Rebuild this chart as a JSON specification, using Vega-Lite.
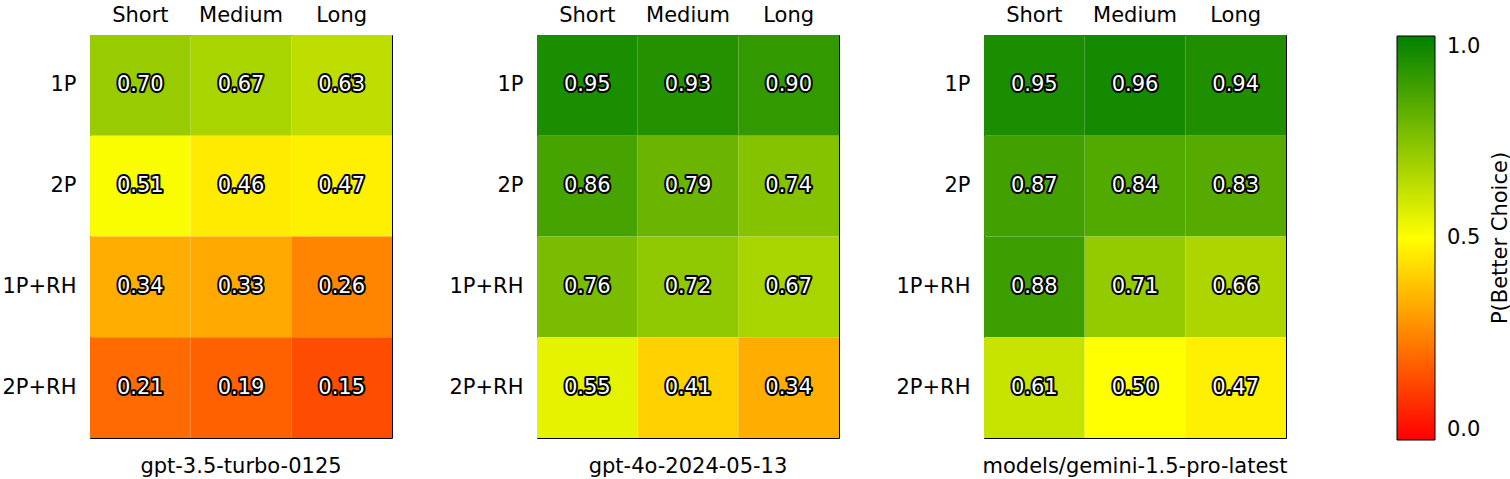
{
  "$schema": "https://vega.github.io/schema/vega-lite/v6.json",
  "padding": {"left": 1, "top": 3, "right": 0, "bottom": 0},
  "background": "white",
  "config": {
    "font": "DejaVu Sans",
    "view": {"stroke": "black", "strokeWidth": 1},
    "concat": {"spacing": 55}
  },
  "data": {"values": [
    {"model": "gpt-3.5-turbo-0125", "prompt": "1P", "length": "Short", "value": 0.70},
    {"model": "gpt-3.5-turbo-0125", "prompt": "1P", "length": "Medium", "value": 0.67},
    {"model": "gpt-3.5-turbo-0125", "prompt": "1P", "length": "Long", "value": 0.63},
    {"model": "gpt-3.5-turbo-0125", "prompt": "2P", "length": "Short", "value": 0.51},
    {"model": "gpt-3.5-turbo-0125", "prompt": "2P", "length": "Medium", "value": 0.46},
    {"model": "gpt-3.5-turbo-0125", "prompt": "2P", "length": "Long", "value": 0.47},
    {"model": "gpt-3.5-turbo-0125", "prompt": "1P+RH", "length": "Short", "value": 0.34},
    {"model": "gpt-3.5-turbo-0125", "prompt": "1P+RH", "length": "Medium", "value": 0.33},
    {"model": "gpt-3.5-turbo-0125", "prompt": "1P+RH", "length": "Long", "value": 0.26},
    {"model": "gpt-3.5-turbo-0125", "prompt": "2P+RH", "length": "Short", "value": 0.21},
    {"model": "gpt-3.5-turbo-0125", "prompt": "2P+RH", "length": "Medium", "value": 0.19},
    {"model": "gpt-3.5-turbo-0125", "prompt": "2P+RH", "length": "Long", "value": 0.15},
    {"model": "gpt-4o-2024-05-13", "prompt": "1P", "length": "Short", "value": 0.95},
    {"model": "gpt-4o-2024-05-13", "prompt": "1P", "length": "Medium", "value": 0.93},
    {"model": "gpt-4o-2024-05-13", "prompt": "1P", "length": "Long", "value": 0.90},
    {"model": "gpt-4o-2024-05-13", "prompt": "2P", "length": "Short", "value": 0.86},
    {"model": "gpt-4o-2024-05-13", "prompt": "2P", "length": "Medium", "value": 0.79},
    {"model": "gpt-4o-2024-05-13", "prompt": "2P", "length": "Long", "value": 0.74},
    {"model": "gpt-4o-2024-05-13", "prompt": "1P+RH", "length": "Short", "value": 0.76},
    {"model": "gpt-4o-2024-05-13", "prompt": "1P+RH", "length": "Medium", "value": 0.72},
    {"model": "gpt-4o-2024-05-13", "prompt": "1P+RH", "length": "Long", "value": 0.67},
    {"model": "gpt-4o-2024-05-13", "prompt": "2P+RH", "length": "Short", "value": 0.55},
    {"model": "gpt-4o-2024-05-13", "prompt": "2P+RH", "length": "Medium", "value": 0.41},
    {"model": "gpt-4o-2024-05-13", "prompt": "2P+RH", "length": "Long", "value": 0.34},
    {"model": "models/gemini-1.5-pro-latest", "prompt": "1P", "length": "Short", "value": 0.95},
    {"model": "models/gemini-1.5-pro-latest", "prompt": "1P", "length": "Medium", "value": 0.96},
    {"model": "models/gemini-1.5-pro-latest", "prompt": "1P", "length": "Long", "value": 0.94},
    {"model": "models/gemini-1.5-pro-latest", "prompt": "2P", "length": "Short", "value": 0.87},
    {"model": "models/gemini-1.5-pro-latest", "prompt": "2P", "length": "Medium", "value": 0.84},
    {"model": "models/gemini-1.5-pro-latest", "prompt": "2P", "length": "Long", "value": 0.83},
    {"model": "models/gemini-1.5-pro-latest", "prompt": "1P+RH", "length": "Short", "value": 0.88},
    {"model": "models/gemini-1.5-pro-latest", "prompt": "1P+RH", "length": "Medium", "value": 0.71},
    {"model": "models/gemini-1.5-pro-latest", "prompt": "1P+RH", "length": "Long", "value": 0.66},
    {"model": "models/gemini-1.5-pro-latest", "prompt": "2P+RH", "length": "Short", "value": 0.61},
    {"model": "models/gemini-1.5-pro-latest", "prompt": "2P+RH", "length": "Medium", "value": 0.50},
    {"model": "models/gemini-1.5-pro-latest", "prompt": "2P+RH", "length": "Long", "value": 0.47}
  ]},
  "resolve": {"scale": {"color": "shared"}},
  "hconcat": [
    {
      "title": {"text": "gpt-3.5-turbo-0125", "orient": "bottom", "fontSize": 21, "fontWeight": "normal", "offset": 18, "color": "black"},
      "width": 302, "height": 403,
      "transform": [{"filter": "datum.model === 'gpt-3.5-turbo-0125'"}],
      "encoding": {
        "x": {"field": "length", "type": "nominal", "sort": ["Short", "Medium", "Long"], "scale": {"paddingInner": 0, "paddingOuter": 0}, "axis": {"orient": "top", "title": null, "labelAngle": 0, "ticks": false, "domain": false, "labelFontSize": 21, "labelPadding": 10, "labelColor": "black"}},
        "y": {"field": "prompt", "type": "nominal", "sort": ["1P", "2P", "1P+RH", "2P+RH"], "scale": {"paddingInner": 0, "paddingOuter": 0}, "axis": {"title": null, "ticks": false, "domain": false, "labelFontSize": 21, "labelPadding": 14, "labelColor": "black"}}
      },
      "layer": [
        {"mark": {"type": "rect"}, "encoding": {
          "color": {"field": "value", "type": "quantitative", "scale": {"domain": [0, 0.5, 1], "range": ["#ff0000", "#ffff00", "#008000"], "interpolate": "rgb"},
          "legend": {"orient": "none", "legendX": 1307, "legendY": 1, "direction": "vertical", "gradientLength": 404, "gradientThickness": 38, "gradientStrokeColor": "black", "gradientStrokeWidth": 1, "values": [0, 0.5, 1], "format": ".1f", "labelFontSize": 21, "labelColor": "black", "labelBaseline": "middle", "labelAlign": "left", "labelOffset": 12, "title": "P(Better Choice)", "titleOrient": "right", "titleAngle": -90, "titleFontSize": 21, "titleFontWeight": "normal", "titleColor": "black", "titleAnchor": "middle", "titlePadding": 31,
            "encode": {"title": {"update": {"angle": {"value": -90}}}}}}}},
        {"mark": {"type": "text", "fontSize": 21, "stroke": "black", "strokeWidth": 4, "fill": "black", "strokeJoin": "round"}, "encoding": {"text": {"field": "value", "type": "quantitative", "format": ".2f"}}},
        {"mark": {"type": "text", "fontSize": 21, "fill": "white"}, "encoding": {"text": {"field": "value", "type": "quantitative", "format": ".2f"}}}
      ]
    },
    {
      "title": {"text": "gpt-4o-2024-05-13", "orient": "bottom", "fontSize": 21, "fontWeight": "normal", "offset": 18, "color": "black"},
      "width": 302, "height": 403,
      "transform": [{"filter": "datum.model === 'gpt-4o-2024-05-13'"}],
      "encoding": {
        "x": {"field": "length", "type": "nominal", "sort": ["Short", "Medium", "Long"], "scale": {"paddingInner": 0, "paddingOuter": 0}, "axis": {"orient": "top", "title": null, "labelAngle": 0, "ticks": false, "domain": false, "labelFontSize": 21, "labelPadding": 10, "labelColor": "black"}},
        "y": {"field": "prompt", "type": "nominal", "sort": ["1P", "2P", "1P+RH", "2P+RH"], "scale": {"paddingInner": 0, "paddingOuter": 0}, "axis": {"title": null, "ticks": false, "domain": false, "labelFontSize": 21, "labelPadding": 14, "labelColor": "black"}}
      },
      "layer": [
        {"mark": {"type": "rect"}, "encoding": {
          "color": {"field": "value", "type": "quantitative", "scale": {"domain": [0, 0.5, 1], "range": ["#ff0000", "#ffff00", "#008000"], "interpolate": "rgb"}}}},
        {"mark": {"type": "text", "fontSize": 21, "stroke": "black", "strokeWidth": 4, "fill": "black", "strokeJoin": "round"}, "encoding": {"text": {"field": "value", "type": "quantitative", "format": ".2f"}}},
        {"mark": {"type": "text", "fontSize": 21, "fill": "white"}, "encoding": {"text": {"field": "value", "type": "quantitative", "format": ".2f"}}}
      ]
    },
    {
      "title": {"text": "models/gemini-1.5-pro-latest", "orient": "bottom", "fontSize": 21, "fontWeight": "normal", "offset": 18, "color": "black"},
      "width": 302, "height": 403,
      "transform": [{"filter": "datum.model === 'models/gemini-1.5-pro-latest'"}],
      "encoding": {
        "x": {"field": "length", "type": "nominal", "sort": ["Short", "Medium", "Long"], "scale": {"paddingInner": 0, "paddingOuter": 0}, "axis": {"orient": "top", "title": null, "labelAngle": 0, "ticks": false, "domain": false, "labelFontSize": 21, "labelPadding": 10, "labelColor": "black"}},
        "y": {"field": "prompt", "type": "nominal", "sort": ["1P", "2P", "1P+RH", "2P+RH"], "scale": {"paddingInner": 0, "paddingOuter": 0}, "axis": {"title": null, "ticks": false, "domain": false, "labelFontSize": 21, "labelPadding": 14, "labelColor": "black"}}
      },
      "layer": [
        {"mark": {"type": "rect"}, "encoding": {
          "color": {"field": "value", "type": "quantitative", "scale": {"domain": [0, 0.5, 1], "range": ["#ff0000", "#ffff00", "#008000"], "interpolate": "rgb"}}}},
        {"mark": {"type": "text", "fontSize": 21, "stroke": "black", "strokeWidth": 4, "fill": "black", "strokeJoin": "round"}, "encoding": {"text": {"field": "value", "type": "quantitative", "format": ".2f"}}},
        {"mark": {"type": "text", "fontSize": 21, "fill": "white"}, "encoding": {"text": {"field": "value", "type": "quantitative", "format": ".2f"}}}
      ]
    }
  ]
}
